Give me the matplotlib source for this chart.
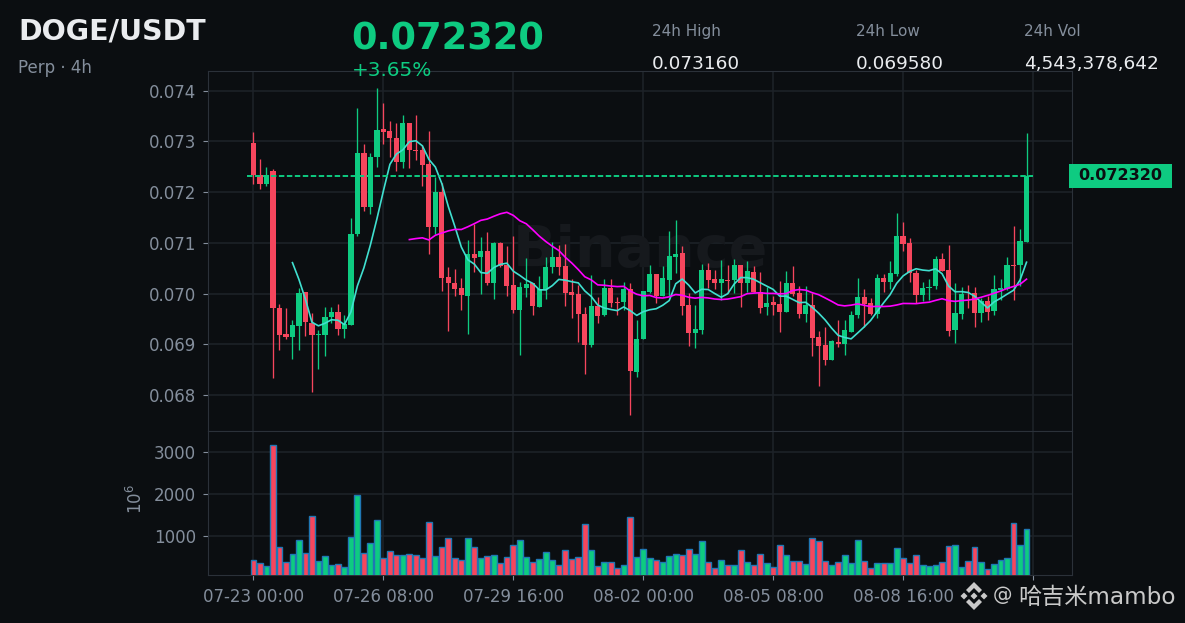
import numpy as np
import pandas as pd
import matplotlib
matplotlib.use('Agg')
import matplotlib.pyplot as plt
from matplotlib.patches import Polygon, Rectangle

opens = [7297, 7233, 7217, 7241, 6972, 6920, 6915, 6937, 7004, 6942,
         6918, 6919, 6953, 6964, 6931, 6939, 7118, 7278, 7170, 7269,
         7325, 7321, 7307, 7260, 7337, 7284, 7284, 7256, 7131, 7201,
         7033, 7021, 7011, 6996, 7079, 7073, 7084, 7020, 7099, 7057,
         7016, 6967, 7012, 7020, 6974, 7010, 7052, 7073, 7055, 7004,
         7000, 6960, 6899, 6976, 6957, 7012, 6984, 6984, 7010, 6846,
         6911, 7003, 7039, 6996, 7026, 7073, 7080, 6978, 6923, 6929,
         7047, 7028, 7020, 7026, 7026, 7057, 7020, 7043, 7004, 6974,
         6984, 6980, 6964, 7021, 7001, 6959, 6978, 6914, 6899, 6870,
         6905, 6901, 6925, 6957, 6994, 6982, 6960, 7030, 7022, 7039,
         7114, 7099, 7041, 6998, 7012, 7014, 7069, 7047, 6929, 6960,
         7002, 7002, 6962, 6986, 6966, 7008, 7010, 7057, 7056, 7101]
highs = [7318, 7266, 7249, 7245, 6980, 6972, 6947, 7011, 7004, 6962,
         6928, 6974, 6974, 6980, 6957, 7149, 7366, 7295, 7278, 7406,
         7376, 7340, 7337, 7352, 7337, 7352, 7294, 7321, 7230, 7218,
         7053, 7049, 7031, 7105, 7138, 7111, 7121, 7102, 7102, 7093,
         7113, 7022, 7071, 7021, 7034, 7072, 7102, 7095, 7097, 7029,
         7016, 6974, 7037, 6993, 7029, 7029, 6993, 7022, 7021, 6948,
         7006, 7057, 7039, 7054, 7123, 7145, 7093, 7001, 6978, 7059,
         7060, 7047, 7066, 7057, 7068, 7057, 7064, 7055, 7042, 7013,
         6995, 7024, 7044, 7054, 7014, 7014, 7001, 6926, 6935, 6909,
         6947, 6947, 6966, 7030, 7010, 6991, 7038, 7038, 7064, 7159,
         7141, 7110, 7047, 7022, 7029, 7074, 7080, 7096, 7020, 7013,
         7016, 7013, 6991, 6995, 7036, 7028, 7072, 7133, 7128, 7317]
lows = [7216, 7207, 7212, 6833, 6888, 6910, 6871, 6888, 6916, 6805,
        6851, 6876, 6942, 6918, 6912, 6939, 7113, 7162, 7157, 7250,
        7295, 7270, 7241, 7248, 7247, 7263, 7212, 7078, 7118, 7005,
        6926, 6996, 6967, 6920, 7042, 6999, 7016, 6989, 7053, 6995,
        6962, 6878, 6993, 6957, 6974, 6989, 7041, 7036, 6975, 6951,
        6904, 6841, 6895, 6942, 6955, 6973, 6958, 6968, 6760, 6835,
        6910, 7001, 6982, 6995, 6996, 7041, 6958, 6896, 6893, 6921,
        7011, 7009, 6988, 7001, 7001, 6974, 7003, 7003, 6962, 6958,
        6958, 6925, 6964, 6995, 6952, 6943, 6876, 6817, 6860, 6870,
        6895, 6879, 6925, 6952, 6935, 6957, 6952, 7003, 7010, 7034,
        7084, 7022, 6982, 6985, 6988, 7009, 7044, 6917, 6903, 6949,
        6972, 6935, 6943, 6947, 6957, 6987, 7008, 6988, 7014, 7101]
closes = [7233, 7217, 7234, 6971, 6919, 6915, 6938, 7001, 6943, 6918,
          6921, 6954, 6964, 6931, 6941, 7118, 7278, 7170, 7270, 7323,
          7318, 7307, 7260, 7337, 7283, 7282, 7253, 7131, 7201, 7030,
          7020, 7010, 6997, 7078, 7071, 7084, 7020, 7099, 7054, 7014,
          6967, 7013, 7019, 6975, 7010, 7053, 7073, 7053, 7002, 6998,
          6959, 6899, 6976, 6955, 7012, 6982, 6982, 7010, 6847, 6911,
          7006, 7039, 6996, 7030, 7075, 7079, 6976, 6922, 6931, 7047,
          7026, 7020, 7028, 7024, 7057, 7020, 7045, 7004, 6972, 6982,
          6978, 6964, 7020, 7000, 6959, 6977, 6913, 6897, 6870, 6907,
          6901, 6929, 6958, 6994, 6980, 6960, 7030, 7022, 7041, 7114,
          7097, 7041, 6998, 7012, 7013, 7068, 7045, 6927, 6962, 7000,
          7001, 6962, 6986, 6964, 7010, 7012, 7057, 7055, 7103, 7232]
# volume in units of 10^6
volumes = [442, 370, 299, 3168, 753, 394, 586, 920, 609, 1470,
           418, 538, 323, 346, 275, 992, 1972, 609, 849, 1375,
           490, 657, 562, 562, 586, 562, 490, 1327, 538, 753,
           968, 490, 442, 968, 753, 490, 538, 562, 370, 514,
           793, 912, 506, 386, 458, 625, 434, 315, 673, 458,
           506, 1295, 673, 291, 386, 386, 243, 315, 1462, 506,
           697, 482, 434, 386, 530, 578, 554, 697, 578, 888,
           386, 243, 434, 315, 315, 673, 386, 315, 578, 362,
           267, 793, 554, 410, 410, 338, 960, 888, 410, 315,
           386, 554, 362, 912, 410, 243, 362, 362, 362, 721,
           482, 362, 554, 315, 291, 315, 386, 769, 793, 267,
           410, 745, 386, 219, 338, 434, 482, 1319, 793, 1175]

date_labels = ['07-23 00:00', '07-26 08:00', '07-29 16:00', '08-02 00:00',
               '08-05 08:00', '08-08 16:00', '']
date_ticks = [0, 20, 40, 60, 80, 100, 120]
price_ticks = [0.068, 0.069, 0.070, 0.071, 0.072, 0.073, 0.074]
volume_ticks = [1000, 2000, 3000]
last_price = 0.07232

BG = '#0b0e11'
UP = '#0ecb81'
DOWN = '#f6465d'
GRID = '#1e2329'
SPINE = '#2b3139'
MUTED = '#848e9c'
W, H = 1185, 623

x = np.arange(len(closes))
o = np.array(opens) / 1e5
h = np.array(highs) / 1e5
l = np.array(lows) / 1e5
c = np.array(closes) / 1e5
up = c >= o
colors = np.where(up, UP, DOWN)
ma7 = pd.Series(c).rolling(7).mean()
ma25 = pd.Series(c).rolling(25).mean()

fig = plt.figure(figsize=(W / 100, H / 100), dpi=100, facecolor=BG)
ax = fig.add_axes([208 / W, 1 - 431 / H, 864 / W, 360 / H], facecolor=BG)
ax_vol = fig.add_axes([208 / W, 1 - 575 / H, 864 / W, 144 / H], facecolor=BG, sharex=ax)

for a in (ax, ax_vol):
    a.grid(True, color=GRID, lw=1.1)
    a.set_axisbelow(True)
    for s in a.spines.values():
        s.set_color(SPINE)
    a.tick_params(colors=MUTED, labelsize=12, color=MUTED)
    a.tick_params(axis='y', pad=5)

ax.text(0.5, 0.5, 'Binance', transform=ax.transAxes, ha='center', va='center',
        fontsize=41, fontweight='bold', color='#16191d', zorder=1)

ax.vlines(x, l, h, colors=colors, lw=0.95, zorder=3)
ax.bar(x, np.abs(c - o), bottom=np.minimum(o, c), width=0.8, color=colors, zorder=3)
ax.plot(x, ma7, color='#40e0d0', lw=1.2, zorder=4)
ax.plot(x, ma25, color='magenta', lw=1.2, zorder=4)
ax.hlines(last_price, -1, 120, colors=UP, linestyles=[(0, (2.8, 1.3))], lw=1.4, zorder=5)

ax.set_xlim(-7, 126)
ax.set_ylim(0.06729, 0.07439)
ax.set_yticks(price_ticks)
ax.set_yticklabels(['%.3f' % t for t in price_ticks])
ax.tick_params(axis='x', bottom=False, labelbottom=False)

ax_vol.bar(x, volumes, width=0.9, color=colors, edgecolor='#1f77b4', linewidth=1.0, zorder=3)
ax_vol.set_ylim(80, 3500)
ax_vol.set_yticks(volume_ticks)
ax_vol.set_xticks(date_ticks)
ax_vol.set_xticklabels(date_labels)
ax_vol.tick_params(axis='x', pad=5.5)

# header, price tag and watermark are placed in pixels on a full-figure overlay
top = fig.add_axes([0, 0, 1, 1], facecolor='none')
top.set_xlim(0, W)
top.set_ylim(H, 0)
top.axis('off')

top.text(18, 31, 'DOGE/USDT', color='#eaecef', fontsize=20.5, fontweight='bold', va='center')
top.text(18, 68, 'Perp · 4h', color=MUTED, fontsize=12, va='center')
top.text(351, 38.5, '0.072320', color=UP, fontsize=26.5, fontweight='bold', va='center')
top.text(352, 71, '+3.65%', color=UP, fontsize=14.4, va='center')

stats = [(652, '24h High', '0.073160'), (856, '24h Low', '0.069580'),
         (1024, '24h Vol', '4,543,378,642')]
for px, name, val in stats:
    top.text(px, 31.5, name, color=MUTED, fontsize=11, va='center')
    top.text(px, 64, val, color='#eaecef', fontsize=13.3, va='center')

top.add_patch(Rectangle((1069, 164), 103, 24, facecolor=UP, edgecolor='none'))
top.text(1120, 176, '0.072320', color=BG, fontsize=11.5, fontweight='bold', ha='center', va='center')
top.text(136, 499, r'$10^6$', color=MUTED, fontsize=12, rotation=90, ha='center', va='center')

# binance logo
lx, ly = 974, 596
LOGO = '#c9c9c9'
for dx in (-10, 0, 10):
    top.add_patch(Polygon([(lx + dx - 3.5, ly), (lx + dx, ly - 3.5), (lx + dx + 3.5, ly), (lx + dx, ly + 3.5)],
                          color=LOGO, lw=0))
for sign in (-1, 1):
    top.add_patch(Polygon([(lx, ly + sign * 14), (lx + 8, ly + sign * 6), (lx + 5, ly + sign * 3),
                           (lx, ly + sign * 8), (lx - 5, ly + sign * 3), (lx - 8, ly + sign * 6)],
                          color=LOGO, lw=0))
top.text(993, 596, '@', color=LOGO, fontsize=14, va='center')
top.text(1018, 597, '哈吉米mambo', color=LOGO, fontsize=16.7, va='center',
         family=['DejaVu Sans', 'Noto Sans CJK SC'])

plt.savefig('out.png', dpi=100, facecolor=BG)
